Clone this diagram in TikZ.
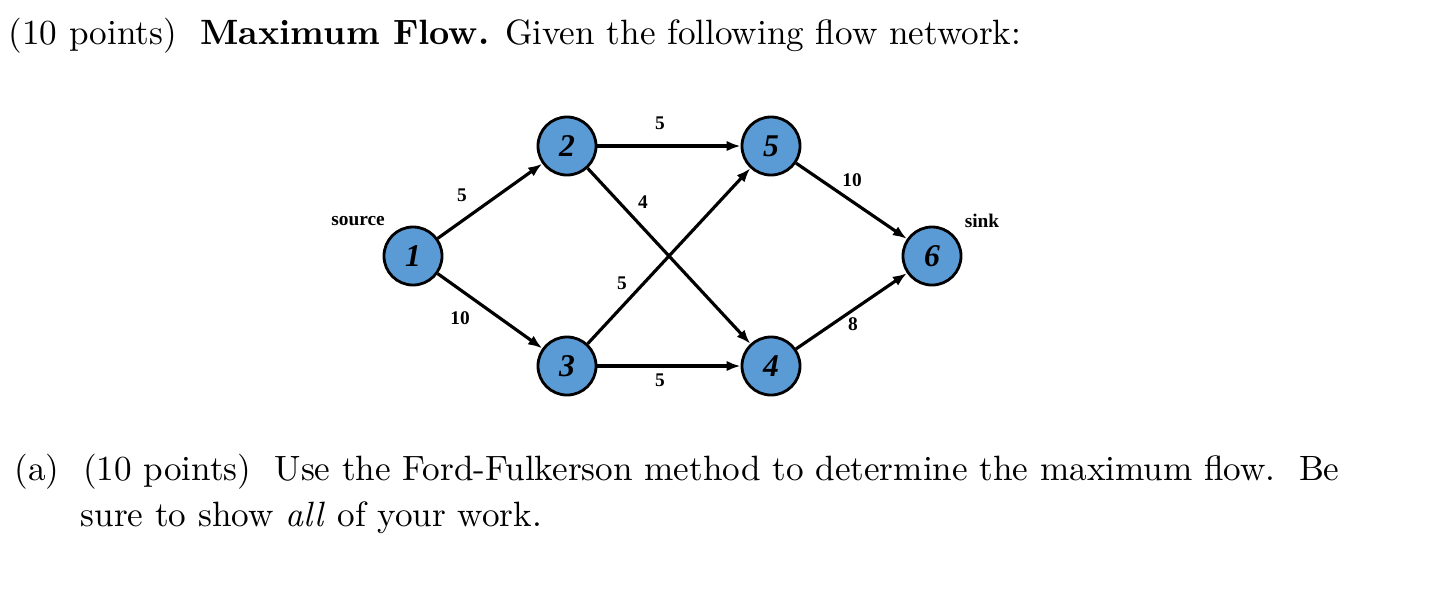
\documentclass[tikz,border=0pt]{standalone}
\usepackage{fontspec}
\newfontfamily\tnr{Liberation Serif}
\usetikzlibrary{arrows.meta}
\definecolor{nodeblue}{HTML}{5B9BD5}
\begin{document}
\begin{tikzpicture}[x=0.01cm,y=-0.01cm,
  vert/.style={circle,draw,line width=0.8pt,fill=nodeblue,minimum size=0.58cm,inner sep=0pt,font=\tnr\bfseries\itshape\fontsize{9}{9}\selectfont},
  edge/.style={-{Latex[length=4pt,width=3pt]},line width=0.9pt},
  wt/.style={font=\tnr\bfseries\fontsize{5.5}{6}\selectfont},
  txt/.style={anchor=base west,inner sep=0pt,font=\fontsize{10}{12}\selectfont}]
\useasboundingbox (0,0) rectangle (1436,614);
\node[txt] (t1) at (8,44) {(10 points)\ \ \textbf{Maximum Flow.} Given the following flow network:};
\node[vert] (n1) at (413,256) {1};
\node[vert] (n2) at (567,146) {2};
\node[vert] (n5) at (771,146) {5};
\node[vert] (n3) at (567,366) {3};
\node[vert] (n4) at (771,366) {4};
\node[vert] (n6) at (932,256) {6};
\draw[edge] (n1) -- (n2);
\draw[edge] (n1) -- (n3);
\draw[edge] (n2) -- (n5);
\draw[edge] (n2) -- (n4);
\draw[edge] (n3) -- (n5);
\draw[edge] (n3) -- (n4);
\draw[edge] (n5) -- (n6);
\draw[edge] (n4) -- (n6);
\node[wt] (w12) at (462,195) {5};
\node[wt] (w13) at (460,318) {10};
\node[wt] (w25) at (660,123) {5};
\node[wt] (w24) at (643,202) {4};
\node[wt] (w35) at (622,283) {5};
\node[wt] (w34) at (660,380) {5};
\node[wt] (w56) at (852,180) {10};
\node[wt] (w46) at (853,324) {8};
\node[wt] (ls) at (358,221) {source};
\node[wt] (lk) at (982,221) {sink};
\node[txt] (t2) at (14,480) {(a)\ \ (10 points)\ \ Use the Ford-Fulkerson method to determine the maximum flow.\ \ Be};
\node[txt] (t3) at (80,526) {sure to show \textit{all} of your work.};
\end{tikzpicture}
\end{document}
